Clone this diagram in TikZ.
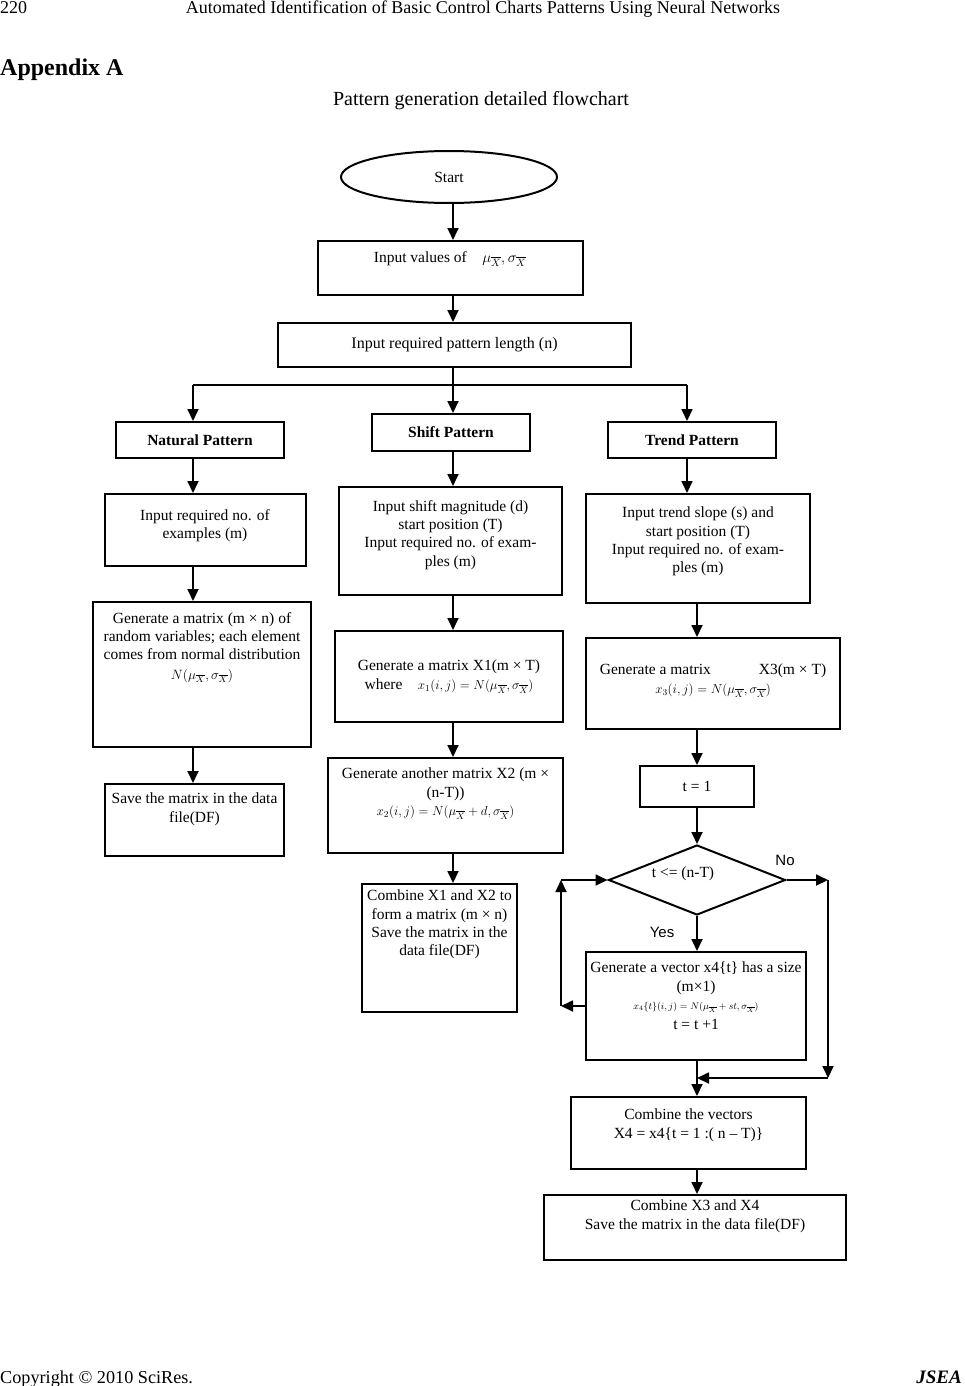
\RequirePackage{fix-cm}
\documentclass[tikz,border=0pt]{standalone}
\usepackage{fontspec}
\setmainfont{Liberation Serif}
\newfontfamily\arialfont{Liberation Sans}
\usetikzlibrary{shapes.geometric,arrows.meta,calc}
\newcommand{\xbr}{\overline{X}}
\begin{document}
\begin{tikzpicture}[x=1pt,y=-1pt,
  box/.style={draw, line width=2pt, rectangle, inner sep=0pt},
  txt/.style={inner sep=0pt, align=center, font=\fontsize{15.5}{18.3}\selectfont, anchor=north},
  lbl/.style={inner sep=0pt, font=\fontsize{15.5}{18.3}\selectfont},
  arr/.style={line width=1.8pt, -{Triangle[length=12pt,width=11pt]}},
  ln/.style={line width=1.8pt},
]
\useasboundingbox (0,0) rectangle (964,1386);
% header / footer
\node[inner sep=0, anchor=base west, font=\fontsize{18}{21}\selectfont] (pg) at (0,14) {220};
\node[inner sep=0, anchor=base, font=\fontsize{18}{21}\selectfont] (hd) at (483,14) {Automated Identification of Basic Control Charts Patterns Using Neural Networks};
\node[inner sep=0, anchor=base west, font=\fontsize{24}{28}\selectfont\bfseries] (app) at (0,76) {Appendix A};
\node[inner sep=0, anchor=base, font=\fontsize{20}{24}\selectfont] (ttl) at (481,106) {Pattern generation detailed flowchart};
\node[inner sep=0, anchor=base west, font=\fontsize{18.2}{21}\selectfont] (cp) at (0,1383) {Copyright © 2010 SciRes.};
\node[inner sep=0, anchor=base east, font=\fontsize{19}{22}\selectfont\bfseries\itshape] (js) at (962,1383) {JSEA};

% top
\node[draw, ellipse, line width=2pt, minimum width=216, minimum height=52, inner sep=0, font=\fontsize{15.5}{18}\selectfont] (start) at (449,177) {Start};
\node[box, minimum width=265, minimum height=54] (inval) at (450.5,268) {};
\node[lbl, anchor=base] (invalt) at (450,262) {Input values of\quad{\fontsize{15}{17}\selectfont$\mu_{\xbr},\sigma_{\xbr}$}};
\node[box, minimum width=353, minimum height=44, font=\fontsize{16}{18}\selectfont] (patlen) at (454.5,345) {Input required pattern length (n)};

% pattern headers
\node[box, minimum width=168, minimum height=36, font=\fontsize{15.5}{18}\selectfont\bfseries] (natural) at (200,440) {Natural Pattern};
\node[box, minimum width=158, minimum height=37, font=\fontsize{15.5}{18}\selectfont\bfseries] (shift) at (451,432.5) {Shift Pattern};
\node[box, minimum width=168, minimum height=36, font=\fontsize{15.5}{18}\selectfont\bfseries] (trend) at (692,440) {Trend Pattern};

% natural column
\node[box, minimum width=201, minimum height=72] (inm) at (205.5,530) {};
\node[txt] (inmt) at (205,509) {Input required no. of\\examples (m)};
\node[box, minimum width=218, minimum height=145] (genm) at (202,674.5) {};
\node[txt] (genmt) at (202,612) {Generate a matrix (m × n) of\\random variables; each element\\comes from normal distribution\\[1pt]{\fontsize{13.5}{15}\selectfont$N(\mu_{\xbr},\sigma_{\xbr})$}};
\node[box, minimum width=179, minimum height=72] (save) at (194.5,820) {};
\node[txt] (savet) at (194.5,793) {Save the matrix in the data\\file(DF)};

% shift column
\node[box, minimum width=223, minimum height=108] (shin) at (450.5,541) {};
\node[txt] (shint) at (450.5,500) {Input shift magnitude (d)\\start position (T)\\Input required no. of exam-\\ples (m)};
\node[box, minimum width=228, minimum height=91] (xa) at (449,676.5) {};
\node[txt] (xat) at (449,660) {Generate a matrix X1(m × T)\\where\quad{\fontsize{13}{15}\selectfont$x_1(i,j)=N(\mu_{\xbr},\sigma_{\xbr})$}};
\node[box, minimum width=235, minimum height=95] (xb) at (445.5,805.5) {};
\node[txt] (xbt) at (445.5,768) {Generate another matrix X2 (m ×\\(n-T))\\{\fontsize{13}{15}\selectfont$x_2(i,j)=N(\mu_{\xbr}+d,\sigma_{\xbr})$}};
\node[box, minimum width=155, minimum height=128] (comb) at (439.5,948) {};
\node[txt] (combt) at (439.5,890) {Combine X1 and X2 to\\form a matrix (m × n)\\Save the matrix in the\\data file(DF)};

% trend column
\node[box, minimum width=224, minimum height=109] (trin) at (698,548.5) {};
\node[txt] (trint) at (698,507) {Input trend slope (s) and\\start position (T)\\Input required no. of exam-\\ples (m)};
\node[box, minimum width=254, minimum height=91] (xc) at (713,683.5) {};
\node[txt] (xct) at (713,664) {Generate a matrix\hspace{48pt}X3(m × T)\\{\fontsize{13}{15}\selectfont$x_3(i,j)=N(\mu_{\xbr},\sigma_{\xbr})$}};
\node[box, minimum width=114, minimum height=41, font=\fontsize{15.5}{18}\selectfont] (tone) at (697,786.5) {t = 1};
\node[draw, diamond, line width=2pt, minimum width=177, minimum height=70, aspect=2.5, inner sep=0] (cond) at (697,880) {};
\node[lbl, anchor=base] (condt) at (683,877) {t <= (n-T)};
\node[box, minimum width=220, minimum height=108] (vec) at (696,1006) {};
\node[txt] (vect) at (696,962) {Generate a vector x4\{t\} has a size\\(m×1)\\{\fontsize{9.6}{12}\selectfont$x_4\{t\}(i,j)=N(\mu_{\xbr}+st,\sigma_{\xbr})$}\\[2pt]t = t +1};
\node[box, minimum width=235, minimum height=72] (combv) at (688.5,1133) {};
\node[txt] (combvt) at (688.5,1109) {Combine the vectors\\X4 = x4\{t = 1 :( n – T)\}};
\node[box, minimum width=302, minimum height=65] (combf) at (695,1227.5) {};
\node[txt] (combft) at (695,1200) {Combine X3 and X4\\Save the matrix in the data file(DF)};

\node[inner sep=0, font=\arialfont\fontsize{15}{18}\selectfont] (no) at (785,860) {No};
\node[inner sep=0, font=\arialfont\fontsize{15}{18}\selectfont] (yes) at (662,932) {Yes};

% coordinates
\coordinate (bc) at (453,385);
\coordinate (bl) at (193,385);
\coordinate (br) at (687,385);
\coordinate (tc) at (697,385);
\coordinate (lb) at (561,1006);
\coordinate (lt) at (561,880);
\coordinate (na) at (828,880);
\coordinate (nb) at (828,1078);
\coordinate (nc) at (697,1078);

% connectors
\draw[arr] (start.south -| bc) -- (bc |- inval.north);
\draw[arr] (inval.south -| bc) -- (bc |- patlen.north);
\draw[ln] (patlen.south -| bc) -- (bc);
\draw[ln] (bl) -- (br);
\draw[arr] (bl) -- (bl |- natural.north);
\draw[arr] (bc) -- (bc |- shift.north);
\draw[arr] (br) -- (br |- trend.north);

\draw[arr] (natural.south -| bl) -- (bl |- inm.north);
\draw[arr] (inm.south -| bl) -- (bl |- genm.north);
\draw[arr] (genm.south -| bl) -- (bl |- save.north);

\draw[arr] (shift.south -| bc) -- (bc |- shin.north);
\draw[arr] (shin.south -| bc) -- (bc |- xa.north);
\draw[arr] (xa.south -| bc) -- (bc |- xb.north);
\draw[arr] (xb.south -| bc) -- (bc |- comb.north);

\draw[arr] (trend.south -| br) -- (br |- trin.north);
\draw[arr] (trin.south -| tc) -- (tc |- xc.north);
\draw[arr] (xc.south -| tc) -- (tc |- tone.north);
\draw[arr] (tone.south -| tc) -- (cond.north);
\draw[arr] (cond.south) -- (tc |- vec.north);
\draw[arr] (vec.south -| tc) -- (tc |- combv.north);
\draw[arr] (combv.south -| tc) -- (tc |- combf.north);

\draw[arr] (vec.west) -- (lb);
\draw[arr] (lb) -- (lt);
\draw[arr] (lt) -- (cond.west);
\draw[arr] (cond.east) -- (na);
\draw[arr] (na) -- (nb);
\draw[arr] (nb) -- (nc);
\end{tikzpicture}
\end{document}
